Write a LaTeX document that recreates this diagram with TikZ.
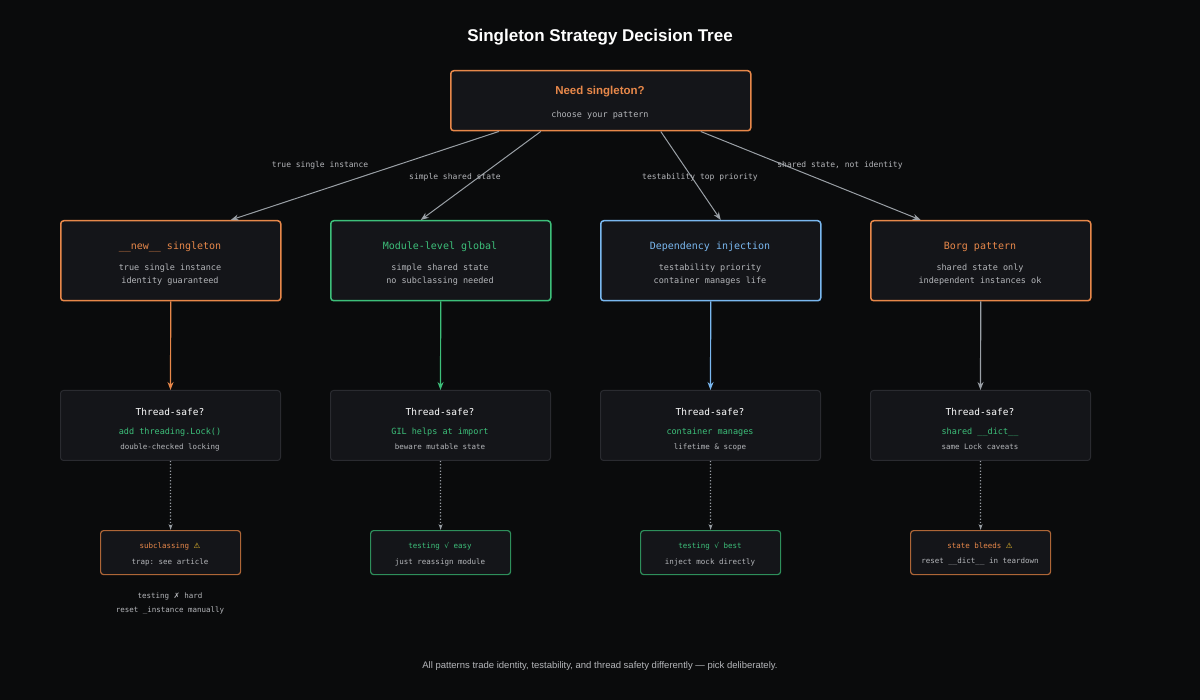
\documentclass[tikz,border=0pt]{standalone}
\usepackage{fontspec}
\setmainfont{Liberation Sans}
\setmonofont{DejaVu Sans Mono}
\newfontfamily\symf{DejaVu Sans}
\usetikzlibrary{arrows.meta,calc}
\definecolor{bg}{HTML}{0A0B0C}
\definecolor{boxf}{HTML}{141519}
\definecolor{org}{HTML}{E8884A}
\definecolor{grn}{HTML}{3DBF7A}
\definecolor{blu}{HTML}{7AB8F0}
\definecolor{gry}{HTML}{9AA0A6}
\definecolor{txt}{HTML}{B4B6BA}
\definecolor{tbd}{HTML}{2A2B30}
\definecolor{warn}{HTML}{F2C22E}
\newcommand{\wrn}{{\symf\color{warn}⚠}}
\begin{document}
\begin{tikzpicture}[x=1pt,y=-1pt,
  box/.style={draw=#1,line width=1.5pt,rounded corners=3pt,fill=boxf,anchor=north west,inner sep=0pt},
  ts/.style={draw=tbd,line width=1pt,rounded corners=3pt,fill=boxf,anchor=north west,inner sep=0pt,minimum width=220pt,minimum height=70pt},
  arr/.style={-{Stealth[length=8pt,width=6pt]},line width=1.2pt,draw=#1},
  dot/.style={-{Stealth[length=6pt,width=4pt]},dotted,line width=1.2pt,draw=gry},
  el/.style={font=\ttfamily\fontsize{8}{9}\selectfont,text=txt},
  st/.style={font=\ttfamily\fontsize{8.5}{13}\selectfont,text=txt,align=center}]
\fill[bg] (0,0) rectangle (1200,700);
\node[font=\bfseries\fontsize{17}{20}\selectfont,text=white] (title) at (600,37) {Singleton Strategy Decision Tree};
\node[box=org,minimum width=300pt,minimum height=60pt] (top) at (450,70) {};
\node[font=\bfseries\fontsize{11.5}{13}\selectfont,text=org] (toph) at (600,92) {Need singleton?};
\node[st] (tops) at (600,115) {choose your pattern};
% level 2
\foreach \n/\x/\c/\h/\a/\b in {
 b1/60/org/\_\_new\_\_ singleton/true single instance/identity guaranteed,
 b2/330/grn/Module-level global/simple shared state/no subclassing needed,
 b3/600/blu/Dependency injection/testability priority/container manages life,
 b4/870/org/Borg pattern/shared state only/independent instances ok}{
 \node[box=\c,minimum width=220pt,minimum height=80pt] (\n) at (\x,220) {};
 \node[font=\ttfamily\fontsize{10}{12}\selectfont,text=\c] (\n h) at (\x+110,247) {\h};
 \node[st] (\n s) at (\x+110,275) {\a\\\b};
}
% level 3
\foreach \n/\x/\g/\s in {
 c1/60/add threading.Lock()/double-checked locking,
 c2/330/GIL helps at import/beware mutable state,
 c3/600/container manages/lifetime \& scope,
 c4/870/shared \_\_dict\_\_/same Lock caveats}{
 \node[ts] (\n) at (\x,390) {};
 \node[font=\ttfamily\fontsize{9.5}{11}\selectfont,text=white] (\n h) at (\x+110,412) {Thread-safe?};
 \node[font=\ttfamily\fontsize{8.5}{10}\selectfont,text=grn] (\n g) at (\x+110,432) {\g};
 \node[font=\ttfamily\fontsize{7.5}{9}\selectfont,text=txt] (\n s) at (\x+110,447) {\s};
}
% level 4
\foreach \n/\x/\c/\g/\s in {
 d1/100/org/subclassing \wrn/trap: see article,
 d2/370/grn/testing {\symf√} easy/just reassign module,
 d3/640/grn/testing {\symf√} best/inject mock directly,
 d4/910/org/state bleeds \wrn/reset \_\_dict\_\_ in teardown}{
 \node[box=\c!75!black,line width=1.2pt,minimum width=140pt,minimum height=44pt] (\n) at (\x,530) {};
 \node[font=\ttfamily\fontsize{7.5}{9}\selectfont,text=\c] (\n h) at (\x+70,546) {\g};
 \node[font=\ttfamily\fontsize{7.5}{9}\selectfont,text=txt] (\n s) at (\x+70,562) {\s};
}
\node[font=\ttfamily\fontsize{7.5}{14}\selectfont,text=txt,align=center] (note) at (170,604) {testing {\symf ✗} hard\\reset \_instance manually};
% top edges
\draw[arr=gry,line width=1pt] ([xshift=-102pt]top.south) -- ([xshift=60pt]b1.north);
\draw[arr=gry,line width=1pt] ([xshift=-60pt]top.south) -- ([xshift=-20pt]b2.north);
\draw[arr=gry,line width=1pt] ([xshift=60pt]top.south) -- ([xshift=10pt]b3.north);
\draw[arr=gry,line width=1pt] ([xshift=100pt]top.south) -- ([xshift=-60pt]b4.north);
\node[el] (l1) at (320,165) {true single instance};
\node[el] (l2) at (455,177) {simple shared state};
\node[el] (l3) at (700,177) {testability top priority};
\node[el] (l4) at (840,165) {shared state, not identity};
% verticals
\draw[arr=org] (b1.south) -- (c1.north);
\draw[arr=grn] (b2.south) -- (c2.north);
\draw[arr=blu] (b3.south) -- (c3.north);
\draw[arr=gry] (b4.south) -- (c4.north);
\foreach \i in {1,2,3,4}{\draw[dot] (c\i.south) -- (d\i.north);}
\node[font=\fontsize{9.5}{11}\selectfont,text=txt] (foot) at (600,666) {All patterns trade identity, testability, and thread safety differently — pick deliberately.};
\end{tikzpicture}
\end{document}
